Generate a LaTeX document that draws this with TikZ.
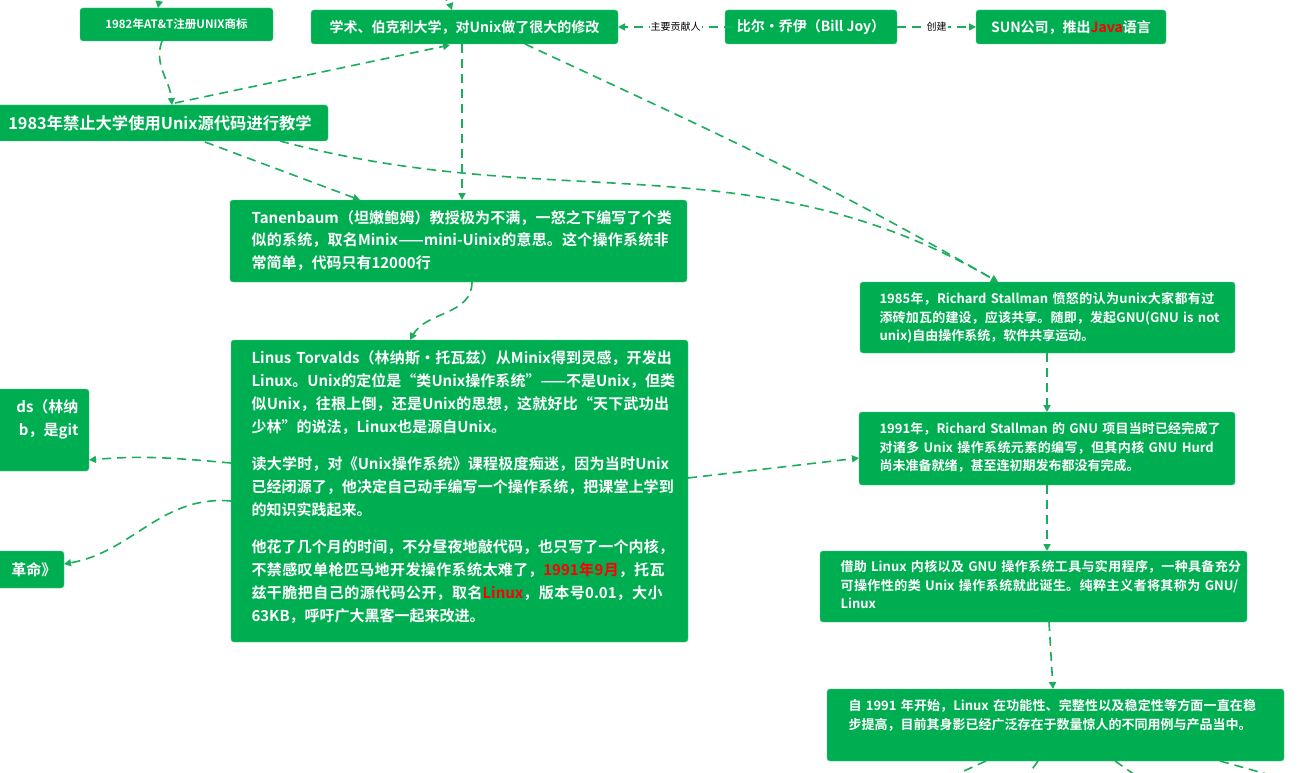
\documentclass[tikz,border=0pt]{standalone}
\usepackage{fontspec}
\setmainfont{Noto Sans CJK SC}[BoldFont={Noto Sans CJK SC Bold}]
\XeTeXlinebreaklocale "zh"
\XeTeXlinebreakskip=0pt plus 1pt
\usetikzlibrary{arrows.meta}
\definecolor{gr}{HTML}{00AE52}
\definecolor{ln}{HTML}{1AAE5C}
\begin{document}
\begin{tikzpicture}[x=1pt,y=-1pt,
 box/.style={fill=gr,draw=gr!70!white,rounded corners=3pt,text=white,font=\bfseries,inner sep=0pt},
 con/.style={ln,line width=1.6pt,dash pattern=on 9pt off 6pt,-{Triangle[length=7pt,width=7pt]}},
 plain/.style={ln,line width=1.6pt,dash pattern=on 9pt off 6pt},
 lab/.style={fill=white,text=black,font=\fontsize{10}{11}\selectfont,inner sep=1pt}]
\useasboundingbox (0,0) rectangle (1309,773);
\fill[white] (0,0) rectangle (1309,773);
% boxes
\path[box] (80,8) rectangle (273,41);
\node[text=white,font=\bfseries\fontsize{11.5}{13}\selectfont] (A) at (176.5,24.5) {1982年AT\&T注册UNIX商标};
\path[box] (311,10) rectangle (618,44);
\node[text=white,font=\bfseries\fontsize{14}{15}\selectfont] (B) at (464.5,27) {学术、伯克利大学，对Unix做了很大的修改};
\path[box] (725,10) rectangle (897,44);
\node[text=white,font=\bfseries\fontsize{14}{15}\selectfont] (C) at (811,27) {比尔•乔伊（Bill Joy）};
\path[box] (976,10) rectangle (1166,44);
\node[text=white,font=\bfseries\fontsize{14}{15}\selectfont] (D) at (1071,27) {SUN公司，推出\textcolor{red}{Java}语言};
\path[box] (-5,105) rectangle (328,141);
\node[text=white,font=\bfseries\fontsize{16.3}{18}\selectfont] (E) at (160,123) {1983年禁止大学使用Unix源代码进行教学};
\path[box] (230,200) rectangle (687,282);
\node[text=white,font=\bfseries\fontsize{15}{22.5}\selectfont,align=left,text width=425pt,anchor=north west] (F) at (248,207) {Tanenbaum（坦嫩鲍姆）教授极为不满，一怒之下编写了个类似的系统，取名Minix——mini-Uinix的意思。这个操作系统非常简单，代码只有12000行};
\path[box] (231,340) rectangle (688,642);
\node[text=white,font=\bfseries\fontsize{15}{23}\selectfont,align=left,text width=425pt,anchor=north west] (G) at (248,347) {Linus Torvalds（林纳斯•托瓦兹）从Minix得到灵感，开发出Linux。Unix的定位是“类Unix操作系统”——不是Unix，但类似Unix，往根上倒，还是Unix的思想，这就好比“天下武功出少林”的说法，Linux也是源自Unix。\\[14pt]
读大学时，对《Unix操作系统》课程极度痴迷，因为当时Unix已经闭源了，他决定自己动手编写一个操作系统，把课堂上学到的知识实践起来。\\[14pt]
他花了几个月的时间，不分昼夜地敲代码，也只写了一个内核，不禁感叹单枪匹马地开发操作系统太难了，\textcolor{red}{1991年9月}，托瓦兹干脆把自己的源代码公开，取名\textcolor{red}{Linux}，版本号0.01，大小63KB，呼吁广大黑客一起来改进。};
\path[box] (-5,389) rectangle (89,471);
\node[text=white,font=\bfseries\fontsize{15}{23}\selectfont,align=right,anchor=north east] (H) at (82,396) {ds（林纳\\b，是git};
\path[box] (-5,551) rectangle (64,588);
\node[text=white,font=\bfseries\fontsize{15}{16}\selectfont,anchor=east] (I) at (60,569.5) {革命》};
\path[box] (860,282) rectangle (1235,353);
\node[text=white,font=\bfseries\fontsize{13}{18.5}\selectfont,align=left,text width=345pt,anchor=north west] (J) at (876,289) {1985年，Richard Stallman 愤怒的认为unix大家都有过添砖加瓦的建设，应该共享。随即，发起GNU(GNU is not unix)自由操作系统，软件共享运动。};
\path[box] (859,412) rectangle (1235,485);
\node[text=white,font=\bfseries\fontsize{13}{18.5}\selectfont,align=left,text width=345pt,anchor=north west] (K) at (876,419) {1991年，Richard Stallman 的 GNU 项目当时已经完成了对诸多 Unix 操作系统元素的编写，但其内核 GNU Hurd 尚未准备就绪，甚至连初期发布都没有完成。};
\path[box] (820,551) rectangle (1247,622);
\node[text=white,font=\bfseries\fontsize{13}{18.5}\selectfont,align=left,text width=410pt,anchor=north west] (L) at (837,557) {借助 Linux 内核以及 GNU 操作系统工具与实用程序，一种具备充分可操作性的类 Unix 操作系统就此诞生。纯粹主义者将其称为 GNU/ Linux};
\path[box] (827,689) rectangle (1284,761);
\node[text=white,font=\bfseries\fontsize{13}{18.5}\selectfont,align=left,text width=412pt,anchor=north west] (M) at (845,696) {自 1991 年开始，Linux 在功能性、完整性以及稳定性等方面一直在稳步提高，目前其身影已经广泛存在于数量惊人的不同用例与产品当中。};
% coordinates
\coordinate (a0) at (172,-5);
\coordinate (b0) at (440,-5);
\coordinate (ABot) at (162,41);
\coordinate (ETop) at (172,105);
\coordinate (BBot) at (450,45);
\coordinate (BBot2) at (462,44);
\coordinate (BBot3) at (525,44);
\coordinate (FTop) at (462,200);
\coordinate (FTop2) at (360,200);
\coordinate (JTop) at (998,282);
% edges
\draw[con] (a0) to[out=-150,in=80] (158,8);
\draw[con] (b0) to[out=-30,in=110] (452,10);
\draw[con] (ABot) to[out=-110,in=95] (ETop);
\draw[con] (175,103) -- (BBot);
\draw[con] (BBot2) -- (FTop);
\draw[con] (205,142) -- (FTop2);
\draw[con] (BBot3) to[out=-25,in=150] (JTop);
\draw[con] (280,141) to[out=-15,in=150] (JTop);
\draw[con] (C) -- node[lab]{主要贡献人} (618,27);
\draw[con] (897,27) -- node[lab]{创建} (976,27);
\draw[con] (472,282) to[out=-90,in=60] (410,340);
\draw[con] (231,463) to[out=175,in=5] (89,460);
\draw[con] (231,501) to[out=175,in=10] (64,564);
\draw[con] (688,478) -- (859,458);
\draw[con] (1047,353) -- (1047,412);
\draw[con] (1047,485) -- (1047,551);
\draw[con] (1049,622) -- (1053,689);
\draw[plain] (986,761) -- (955,775);
\draw[plain] (1038,761) -- (1028,775);
\draw[plain] (1115,761) -- (1135,775);
\draw[plain] (1220,761) -- (1270,775);
\end{tikzpicture}
\end{document}
